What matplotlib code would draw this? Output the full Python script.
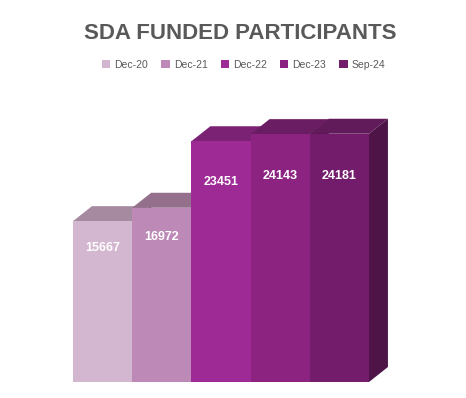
import numpy as np
import matplotlib.pyplot as plt
from matplotlib.patches import Polygon, Patch

# data
periods = ['Dec-20', 'Dec-21', 'Dec-22', 'Dec-23', 'Sep-24']
participants = [15667, 16972, 23451, 24143, 24181]

front_cols = ['#D3B6D0', '#BD89B7', '#9E2A96', '#8C2381', '#741C6C']
top_cols = ['#A68A9F', '#94708D', '#7B2274', '#6B1D64', '#611A5A']
side_col = '#4E1447'

fig = plt.figure(figsize=(4.66, 3.98), dpi=100)
ax = fig.add_axes([73 / 466, 16 / 398, 296 / 466, 308 / 398])
ax.set_xlim(-0.5, 4.5)
ax.set_ylim(0, 30000)
ax.axis('off')

dx = 0.32   # depth in bar units
dy = 1460   # depth in data units
w = 1.0

x = np.arange(len(participants))
for i, v in enumerate(participants):
    z = 2 + i * 3
    ax.bar(x[i], v, width=w, color=front_cols[i], zorder=z, linewidth=0)
    l, r = x[i] - w / 2, x[i] + w / 2
    top = Polygon([(l, v), (r, v), (r + dx, v + dy), (l + dx, v + dy)],
                  closed=True, fc=top_cols[i], ec='none', zorder=z - 1, clip_on=False)
    side = Polygon([(r, 0), (r + dx, dy), (r + dx, v + dy), (r, v)],
                   closed=True, fc=side_col, ec='none', zorder=z - 1, clip_on=False)
    ax.add_patch(top)
    ax.add_patch(side)
    ax.text(x[i], v * 0.83, str(v), ha='center', va='center', color='white',
            fontsize=9, fontweight='bold', family='Liberation Sans', zorder=50)

fig.text(0.516, 0.915, 'SDA FUNDED PARTICIPANTS', ha='center', va='center',
         fontsize=16, fontweight='bold', color='#595959', family='Liberation Sans')

handles = [Patch(facecolor=c, edgecolor='none') for c in front_cols]
fig.legend(handles, periods, loc='center', bbox_to_anchor=(0.523, 0.837), ncol=5,
           frameon=False, prop={'family': 'Liberation Sans', 'size': 7.5},
           labelcolor='#595959', handlelength=0.8, handleheight=0.8,
           handletextpad=0.4, columnspacing=1.25)

fig.savefig('out.png', dpi=100)
